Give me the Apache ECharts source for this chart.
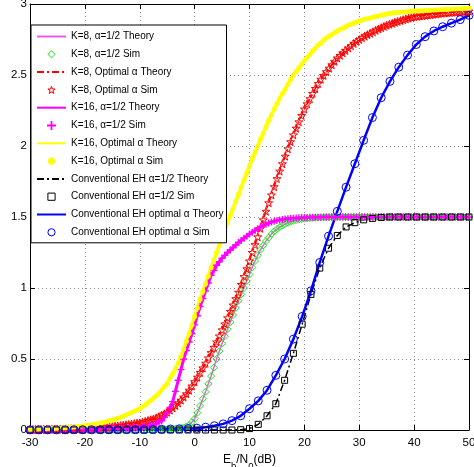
<!DOCTYPE html>
<html>
<head>
<meta charset="utf-8">
<script src="https://cdn.jsdelivr.net/npm/echarts@6/dist/echarts.min.js"></script>
<style>
  html, body { margin: 0; padding: 0; background: #fff; }
  #container { width: 474px; height: 467px; }
</style>
</head>
<body>
<div id="container"></div>
<script>
// Eb/N0 grid (dB) for the dense simulated curves, 0.5 dB step
const ebn0Fine = [
  -30, -29.5, -29, -28.5, -28, -27.5, -27, -26.5, -26, -25.5,
  -25, -24.5, -24, -23.5, -23, -22.5, -22, -21.5, -21, -20.5,
  -20, -19.5, -19, -18.5, -18, -17.5, -17, -16.5, -16, -15.5,
  -15, -14.5, -14, -13.5, -13, -12.5, -12, -11.5, -11, -10.5,
  -10, -9.5, -9, -8.5, -8, -7.5, -7, -6.5, -6, -5.5,
  -5, -4.5, -4, -3.5, -3, -2.5, -2, -1.5, -1, -0.5,
  0, 0.5, 1, 1.5, 2, 2.5, 3, 3.5, 4, 4.5,
  5, 5.5, 6, 6.5, 7, 7.5, 8, 8.5, 9, 9.5,
  10, 10.5, 11, 11.5, 12, 12.5, 13, 13.5, 14, 14.5,
  15, 15.5, 16, 16.5, 17, 17.5, 18, 18.5, 19, 19.5,
  20, 20.5, 21, 21.5, 22, 22.5, 23, 23.5, 24, 24.5,
  25, 25.5, 26, 26.5, 27, 27.5, 28, 28.5, 29, 29.5,
  30, 30.5, 31, 31.5, 32, 32.5, 33, 33.5, 34, 34.5,
  35, 35.5, 36, 36.5, 37, 37.5, 38, 38.5, 39, 39.5,
  40, 40.5, 41, 41.5, 42, 42.5, 43, 43.5, 44, 44.5,
  45, 45.5, 46, 46.5, 47, 47.5, 48, 48.5, 49, 49.5,
  50
];

// K=8, alpha=1/2 (green diamonds, thin magenta theory line)
const k8Half = [
  0.001, 0.001, 0.001, 0.001, 0.001, 0.001, 0.001, 0.001, 0.001, 0.001,
  0.001, 0.001, 0.001, 0.001, 0.001, 0.001, 0.001, 0.001, 0.001, 0.001,
  0.001, 0.001, 0.001, 0.001, 0.001, 0.001, 0.001, 0.001, 0.001, 0.001,
  0.001, 0.001, 0.001, 0.001, 0.001, 0.001, 0.002, 0.002, 0.002, 0.002,
  0.002, 0.002, 0.003, 0.003, 0.003, 0.004, 0.004, 0.004, 0.005, 0.005,
  0.006, 0.007, 0.008, 0.010, 0.012, 0.015, 0.018, 0.025, 0.035, 0.055,
  0.080, 0.122, 0.170, 0.220, 0.270, 0.325, 0.380, 0.440, 0.500, 0.555,
  0.610, 0.660, 0.710, 0.760, 0.810, 0.860, 0.910, 0.955, 1.000, 1.050,
  1.095, 1.145, 1.190, 1.230, 1.270, 1.300, 1.330, 1.355, 1.380, 1.398,
  1.415, 1.428, 1.440, 1.450, 1.460, 1.467, 1.473, 1.478, 1.482, 1.485,
  1.488, 1.490, 1.492, 1.494, 1.495, 1.496, 1.497, 1.497, 1.498, 1.498,
  1.499, 1.499, 1.5, 1.5, 1.5, 1.5, 1.5, 1.5, 1.5, 1.5,
  1.5, 1.5, 1.5, 1.5, 1.5, 1.5, 1.5, 1.5, 1.5, 1.5,
  1.5, 1.5, 1.5, 1.5, 1.5, 1.5, 1.5, 1.5, 1.5, 1.5,
  1.5, 1.5, 1.5, 1.5, 1.5, 1.5, 1.5, 1.5, 1.5, 1.5,
  1.5, 1.5, 1.5, 1.5, 1.5, 1.5, 1.5, 1.5, 1.5, 1.5,
  1.5
];

// K=8, optimal alpha (red stars, red dash-dot theory)
const k8Opt = [
  0.003, 0.003, 0.004, 0.004, 0.004, 0.005, 0.005, 0.005, 0.006, 0.006,
  0.006, 0.007, 0.007, 0.008, 0.008, 0.009, 0.009, 0.010, 0.010, 0.011,
  0.012, 0.013, 0.014, 0.015, 0.016, 0.018, 0.019, 0.020, 0.022, 0.023,
  0.025, 0.027, 0.029, 0.031, 0.034, 0.037, 0.039, 0.042, 0.045, 0.048,
  0.050, 0.055, 0.061, 0.067, 0.072, 0.078, 0.085, 0.094, 0.104, 0.114,
  0.125, 0.140, 0.155, 0.172, 0.190, 0.210, 0.232, 0.255, 0.280, 0.310,
  0.340, 0.372, 0.405, 0.437, 0.470, 0.507, 0.545, 0.582, 0.620, 0.662,
  0.705, 0.747, 0.790, 0.835, 0.880, 0.925, 0.970, 1.025, 1.080, 1.135,
  1.190, 1.250, 1.305, 1.360, 1.420, 1.480, 1.540, 1.600, 1.655, 1.713,
  1.770, 1.823, 1.875, 1.928, 1.980, 2.030, 2.078, 2.125, 2.170, 2.215,
  2.260, 2.297, 2.333, 2.370, 2.405, 2.440, 2.470, 2.497, 2.523, 2.548,
  2.572, 2.596, 2.620, 2.638, 2.656, 2.673, 2.690, 2.706, 2.722, 2.736,
  2.750, 2.762, 2.773, 2.784, 2.794, 2.804, 2.814, 2.824, 2.833, 2.842,
  2.850, 2.857, 2.864, 2.871, 2.877, 2.883, 2.889, 2.895, 2.900, 2.905,
  2.910, 2.913, 2.916, 2.918, 2.920, 2.923, 2.925, 2.928, 2.930, 2.933,
  2.935, 2.937, 2.939, 2.940, 2.942, 2.943, 2.945, 2.946, 2.947, 2.949,
  2.950
];

// K=16, alpha=1/2 (magenta +, thick magenta theory)
const k16Half = [
  0.002, 0.002, 0.002, 0.002, 0.002, 0.003, 0.003, 0.003, 0.003, 0.003,
  0.003, 0.003, 0.003, 0.003, 0.004, 0.004, 0.004, 0.004, 0.004, 0.004,
  0.004, 0.004, 0.005, 0.005, 0.005, 0.005, 0.006, 0.006, 0.006, 0.007,
  0.007, 0.008, 0.008, 0.009, 0.010, 0.011, 0.012, 0.013, 0.015, 0.016,
  0.018, 0.021, 0.024, 0.028, 0.032, 0.038, 0.045, 0.054, 0.065, 0.090,
  0.120, 0.158, 0.200, 0.272, 0.350, 0.425, 0.500, 0.560, 0.620, 0.680,
  0.740, 0.805, 0.870, 0.925, 0.980, 1.035, 1.090, 1.125, 1.160, 1.185,
  1.210, 1.230, 1.250, 1.268, 1.285, 1.303, 1.320, 1.335, 1.350, 1.365,
  1.380, 1.393, 1.405, 1.418, 1.430, 1.440, 1.449, 1.457, 1.465, 1.470,
  1.475, 1.479, 1.483, 1.486, 1.488, 1.490, 1.492, 1.493, 1.494, 1.496,
  1.497, 1.497, 1.498, 1.498, 1.499, 1.499, 1.499, 1.5, 1.5, 1.5,
  1.5, 1.5, 1.5, 1.5, 1.5, 1.5, 1.5, 1.5, 1.5, 1.5,
  1.5, 1.5, 1.5, 1.5, 1.5, 1.5, 1.5, 1.5, 1.5, 1.5,
  1.5, 1.5, 1.5, 1.5, 1.5, 1.5, 1.5, 1.5, 1.5, 1.5,
  1.5, 1.5, 1.5, 1.5, 1.5, 1.5, 1.5, 1.5, 1.5, 1.5,
  1.5, 1.5, 1.5, 1.5, 1.5, 1.5, 1.5, 1.5, 1.5, 1.5,
  1.5
];

// K=16, optimal alpha (yellow dots, thick yellow theory)
const k16Opt = [
  0.005, 0.006, 0.006, 0.007, 0.008, 0.008, 0.009, 0.010, 0.010, 0.011,
  0.012, 0.013, 0.015, 0.016, 0.018, 0.020, 0.022, 0.024, 0.026, 0.028,
  0.030, 0.033, 0.036, 0.039, 0.042, 0.046, 0.050, 0.055, 0.060, 0.065,
  0.070, 0.076, 0.083, 0.090, 0.097, 0.105, 0.114, 0.123, 0.132, 0.141,
  0.150, 0.164, 0.178, 0.193, 0.208, 0.224, 0.240, 0.261, 0.283, 0.306,
  0.330, 0.362, 0.396, 0.432, 0.470, 0.520, 0.570, 0.625, 0.680, 0.740,
  0.800, 0.860, 0.920, 0.975, 1.030, 1.085, 1.140, 1.195, 1.250, 1.300,
  1.350, 1.405, 1.460, 1.510, 1.560, 1.610, 1.660, 1.710, 1.760, 1.810,
  1.860, 1.910, 1.955, 2.000, 2.050, 2.090, 2.135, 2.180, 2.220, 2.260,
  2.300, 2.335, 2.370, 2.400, 2.435, 2.470, 2.500, 2.525, 2.550, 2.575,
  2.600, 2.625, 2.645, 2.670, 2.690, 2.710, 2.725, 2.745, 2.760, 2.773,
  2.786, 2.798, 2.810, 2.820, 2.830, 2.840, 2.850, 2.858, 2.866, 2.873,
  2.880, 2.886, 2.892, 2.897, 2.902, 2.907, 2.912, 2.916, 2.920, 2.925,
  2.930, 2.933, 2.936, 2.938, 2.940, 2.942, 2.944, 2.946, 2.948, 2.949,
  2.950, 2.951, 2.952, 2.953, 2.954, 2.955, 2.956, 2.957, 2.958, 2.959,
  2.960, 2.961, 2.962, 2.963, 2.964, 2.965, 2.966, 2.967, 2.968, 2.969,
  2.970
];

// coarser grid for the conventional EH curves, 1.6 dB step
const ebn0Coarse = [
  -30, -28.4, -26.8, -25.2, -23.6, -22, -20.4, -18.8, -17.2, -15.6,
  -14, -12.4, -10.8, -9.2, -7.6, -6, -4.4, -2.8, -1.2, 0.4,
  2, 3.6, 5.2, 6.8, 8.4, 10, 11.6, 13.2, 14.8, 16.4,
  18, 19.6, 21.2, 22.8, 24.4, 26, 27.6, 29.2, 30.8, 32.4,
  34, 35.6, 37.2, 38.8, 40.4, 42, 43.6, 45.2, 46.8, 48.4,
  50
];

// conventional EH, alpha=1/2 (black squares, black dash-dot theory)
const convHalf = [
  0, 0, 0, 0, 0, 0, 0, 0, 0, 0,
  0, 0, 0, 0, 0, 0, 0, 0, 0, 0,
  0, 0, 0, 0, 0.002, 0.010, 0.040, 0.100, 0.185, 0.350,
  0.540, 0.745, 0.955, 1.140, 1.280, 1.370, 1.430, 1.460, 1.480, 1.490,
  1.497, 1.5, 1.5, 1.5, 1.5, 1.5, 1.5, 1.5, 1.5, 1.5,
  1.5
];

// conventional EH, optimal alpha (blue circles, blue theory)
const convOpt = [
  0.001, 0.001, 0.001, 0.001, 0.001, 0.002, 0.002, 0.002, 0.002, 0.002,
  0.002, 0.003, 0.003, 0.003, 0.004, 0.005, 0.007, 0.008, 0.010, 0.013,
  0.020, 0.030, 0.043, 0.066, 0.100, 0.150, 0.205, 0.280, 0.385, 0.500,
  0.640, 0.800, 0.980, 1.180, 1.365, 1.540, 1.710, 1.875, 2.040, 2.200,
  2.340, 2.455, 2.555, 2.640, 2.715, 2.770, 2.810, 2.840, 2.865, 2.890,
  2.920
];

const xTicks = [-30, -20, -10, 0, 10, 20, 30, 40, 50];
const yTicks = [0, 0.5, 1, 1.5, 2, 2.5, 3];

const SANS = "'Liberation Sans', Arial, Helvetica, sans-serif";

function zip(xs, ys) {
  return xs.map((x, i) => [x, ys[i]]);
}

const STAR = "path://M5,0L6.2,3.6L10,3.6L6.9,5.9L8.1,9.5L5,7.3L1.9,9.5L3.1,5.9L0,3.6L3.8,3.6Z";
// filled cross, reads as a "+" marker
const PLUS = "path://M4,0L6,0L6,4L10,4L10,6L6,6L6,10L4,10L4,6L0,6L0,4L4,4Z";
const CLEAR = "rgba(0,0,0,0)";

const legendItems = [];

function theory(name, xs, ys, color, width, type) {
  legendItems.push({ name: name, itemStyle: { opacity: 0 } });
  return {
    name: name,
    type: "line",
    data: zip(xs, ys),
    symbol: "none",
    lineStyle: { color: color, width: width, type: type || "solid" },
    itemStyle: { color: color },
  };
}

function sim(name, xs, ys, symbol, size, color, filled, forceIcon) {
  const markStyle = {
    color: filled ? color : CLEAR,
    borderColor: color,
    borderWidth: filled ? 0 : 1,
    opacity: 1,
  };
  const item = {
    name: name,
    itemStyle: Object.assign({}, markStyle),
    lineStyle: { opacity: 0, width: 0 },
  };
  if (forceIcon) item.icon = symbol;
  legendItems.push(item);
  return {
    name: name,
    type: "line",
    data: zip(xs, ys),
    symbol: symbol,
    symbolSize: size,
    showAllSymbol: true,
    lineStyle: { width: 0, color: color },
    itemStyle: markStyle,
  };
}

const seriesList = [
  theory("K=8, α=1/2 Theory", ebn0Fine, k8Half, "#e85ee8", 1.5),
  sim("K=8, α=1/2 Sim", ebn0Fine, k8Half, "diamond", 7, "#19e619", false),
  theory("K=8, Optimal α Theory", ebn0Fine, k8Opt, "#ff0000", 1.5, [7, 3, 2, 3]),
  sim("K=8, Optimal α Sim", ebn0Fine, k8Opt, STAR, 8, "#ff0000", false),
  theory("K=16, α=1/2 Theory", ebn0Fine, k16Half, "#ff00ff", 3),
  sim("K=16, α=1/2 Sim", ebn0Fine, k16Half, PLUS, 7, "#ff00ff", true, true),
  theory("K=16, Optimal α Theory", ebn0Fine, k16Opt, "#ffff00", 3.5),
  sim("K=16, Optimal α Sim", ebn0Fine, k16Opt, "circle", 5, "#ffff00", true),
  theory("Conventional EH α=1/2 Theory", ebn0Coarse, convHalf, "#000000", 1.5, [7, 3, 2, 3]),
  sim("Conventional EH α=1/2 Sim", ebn0Coarse, convHalf, "rect", 6, "#000000", false),
  theory("Conventional EH optimal α Theory", ebn0Coarse, convOpt, "#0000ff", 2.5),
  sim("Conventional EH optimal α Sim", ebn0Coarse, convOpt, "circle", 8, "#0000ff", false),
];

const dom = document.getElementById("container");
const myChart = echarts.init(dom, null, { renderer: "canvas" });

const frameAxis = {
  axisLine: { show: true, onZero: false, lineStyle: { color: "#000", width: 1 } },
  axisTick: { show: true, inside: true, length: 5, lineStyle: { color: "#000" } },
};

const option = {
  animation: false,
  backgroundColor: "#fff",
  grid: { left: 30, right: 5, top: 4, bottom: 37, containLabel: false, outerBoundsMode: "none" },
  legend: {
    orient: "vertical",
    left: 31,
    top: 25,
    backgroundColor: "#fff",
    borderColor: "#000",
    borderWidth: 1,
    borderRadius: 0,
    padding: [5, 3, 4, 5],
    itemWidth: 29,
    itemHeight: 9,
    itemGap: 4.8,
    symbolKeepAspect: true,
    selectedMode: false,
    textStyle: { fontSize: 10, lineHeight: 13, color: "#000", fontFamily: SANS },
    data: legendItems,
  },
  xAxis: [
    {
      type: "value",
      min: xTicks[0],
      max: xTicks[xTicks.length - 1],
      interval: 10,
      position: "bottom",
      ...frameAxis,
      axisLabel: { color: "#000", fontSize: 11.5, fontFamily: SANS, margin: 7 },
      splitLine: { show: true, lineStyle: { color: "#8c8c8c", type: [1, 3] } },
      name: "{n|E}{s|b}{n|/N}{s|0}{n|(dB)}",
      nameLocation: "middle",
      nameGap: 18,
      nameTextStyle: {
        rich: {
          n: { fontSize: 12, fontFamily: SANS, color: "#000", verticalAlign: "top", padding: [0, 0, 5, 0] },
          s: { fontSize: 9.5, fontFamily: SANS, color: "#000", verticalAlign: "bottom" },
        },
      },
    },
    {
      type: "value",
      min: xTicks[0],
      max: xTicks[xTicks.length - 1],
      interval: 10,
      position: "top",
      ...frameAxis,
      axisLabel: { show: false },
      splitLine: { show: false },
    },
  ],
  yAxis: [
    {
      type: "value",
      min: yTicks[0],
      max: yTicks[yTicks.length - 1],
      interval: 0.5,
      position: "left",
      ...frameAxis,
      axisLabel: { color: "#000", fontSize: 11.5, fontFamily: SANS, margin: 3 },
      splitLine: { show: true, lineStyle: { color: "#8c8c8c", type: [1, 3] } },
      name: "Throughput in bit/s/Hz",
      nameLocation: "middle",
      nameGap: 15,
      nameTextStyle: { fontSize: 13.5, fontFamily: SANS, color: "#000" },
    },
    {
      type: "value",
      min: yTicks[0],
      max: yTicks[yTicks.length - 1],
      interval: 0.5,
      position: "right",
      ...frameAxis,
      axisLabel: { show: false },
      splitLine: { show: false },
    },
  ],
  series: seriesList,
};

myChart.setOption(option);
window.addEventListener("resize", myChart.resize);
</script>
</body>
</html>
